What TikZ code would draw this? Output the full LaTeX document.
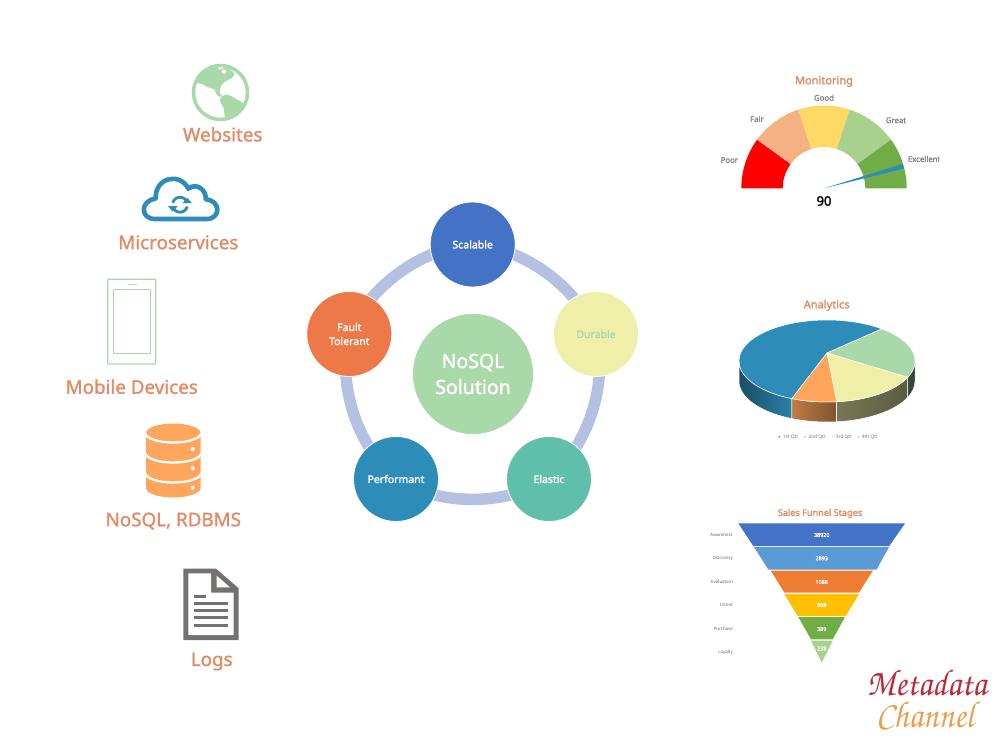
\documentclass[tikz,border=0pt]{standalone}
\usepackage{fontspec}
\setmainfont{Noto Sans}
\usetikzlibrary{backgrounds,calc}
\definecolor{lbl}{HTML}{E08B66}
\definecolor{grn}{HTML}{A9D8A9}
\definecolor{blu}{HTML}{2E8CB8}
\definecolor{ringc}{HTML}{B4C1E2}
\definecolor{dbor}{HTML}{FFA65C}
\definecolor{docg}{HTML}{767171}
\definecolor{gtxt}{HTML}{7F7F7F}
\definecolor{cscal}{HTML}{4472C4}
\definecolor{cdura}{HTML}{EFEFAA}
\definecolor{celas}{HTML}{5FBFAA}
\definecolor{cfaul}{HTML}{ED7848}
\definecolor{gfair}{HTML}{F4B183}
\definecolor{ggood}{HTML}{FFD966}
\definecolor{ggreat}{HTML}{A9D18E}
\definecolor{gexc}{HTML}{70AD47}
\definecolor{fblue}{HTML}{5B9BD5}
\definecolor{forange}{HTML}{ED7D31}
\definecolor{fgold}{HTML}{FFC000}
\definecolor{mred}{HTML}{BE283C}
\definecolor{mora}{HTML}{E8A050}
\newfontfamily\semib[FakeBold=1.2]{Noto Sans}
\newfontfamily\strongf[FakeBold=1.8]{Noto Sans}
\tikzset{
  leftlabel/.style={text=lbl,font=\semib\fontsize{18.8}{22}\selectfont,inner sep=0pt},
  charttitle/.style={text=lbl,font=\strongf\fontsize{11}{13}\selectfont,inner sep=0pt},
  disc/.style={circle,draw=white,line width=0.8pt,minimum size=85pt,inner sep=0pt,text=white,align=center,font=\strongf\fontsize{10.5}{14}\selectfont},
  ringarc/.style={draw=ringc,line width=11.5pt},
  gaugelbl/.style={text=gtxt,font=\semib\fontsize{7.8}{9}\selectfont,inner sep=0pt},
  funlbl/.style={text=black!60,font=\fontsize{4.4}{6}\selectfont,inner sep=0pt,anchor=east},
  funval/.style={text=white,font=\semib\fontsize{5.4}{6}\selectfont,inner sep=0pt},
  leglbl/.style={text=black!55,font=\fontsize{4.8}{6}\selectfont,inner sep=0pt,anchor=west},
  pieseam/.style={draw=white,line width=0.5pt},
  logotext/.style={inner sep=0pt,transform shape,font=\usefont{OT1}{pzc}{mb}{it}\fontsize{34}{36}\selectfont},
}
\newcommand{\gseg}[3]{\fill[#3] ([shift={(#1:82.7)}]824,-188.3) arc[start angle=#1,end angle=#2,radius=82.7] -- ([shift={(#2:41.3)}]824,-188.3) arc[start angle=#2,end angle=#1,radius=41.3] -- cycle;}
\newcommand{\ptop}[3]{\fill[#3,pieseam] (827,-353) -- ([shift={(#1:88 and 41)}]827,-361) arc[start angle=#1,end angle=#2,x radius=88,y radius=41] -- cycle;}
\newcommand{\pside}[4]{\path[pieseam,left color=#3,right color=#4] ([shift={(#1:88 and 41)}]827,-361) arc[start angle=#1,end angle=#2,x radius=88,y radius=41] -- ++(0,-20) arc[start angle=#2,end angle=#1,x radius=88,y radius=41] -- cycle;}
\newcommand{\fband}[7]{\fill[#1] (#2,-#6) -- (#3,-#6) -- (#5,-#7) -- (#4,-#7) -- cycle;}
\begin{document}
\begin{tikzpicture}[x=1pt,y=1pt]
\useasboundingbox (0,-750) rectangle (1000,0);
% ---------- globe
\begin{scope}[shift={(185,-58)},x=0.3333pt,y=-0.3333pt]
  \fill[grn] plot[smooth cycle,tension=0.6] coordinates {(36,72) (54,40) (92,24) (104,36) (122,28) (148,46) (140,60) (122,70) (108,84) (104,104) (112,116) (96,112) (88,94) (68,88) (52,78)};
  \fill[grn] plot[smooth cycle,tension=0.6] coordinates {(108,118) (126,110) (152,122) (176,138) (164,154) (146,172) (132,184) (120,178) (116,150) (106,132)};
\end{scope}
\fill[white] (224,-71.5) circle (2.3);
\draw[grn,line width=3.5pt] (220.5,-92.5) circle (27);
\node[leftlabel] (websites) at (222.7,-134.3) {Websites};
% ---------- cloud
\begin{scope}[shift={(135,-172)},x=0.3333pt,y=-0.3333pt]
  \draw[blu,line width=4.6pt,line join=round] (60,141) .. controls (15,141) and (15,85) .. (62,80)
    .. controls (60,15) and (135,0) .. (160,50) .. controls (185,30) and (215,55) .. (212,82)
    .. controls (258,85) and (258,141) .. (215,141) -- cycle;
\end{scope}
\draw[blu,line width=2.8pt] ([shift={(165:7.5)}]180,-204.7) arc[start angle=165,end angle=35,radius=7.5];
\draw[blu,line width=2.8pt] ([shift={(-15:7.5)}]180,-204.7) arc[start angle=-15,end angle=-145,radius=7.5];
\fill[blu] (182.5,-203.2) -- (192,-203.2) -- (187.2,-197.7) -- cycle;
\fill[blu] (168,-206.2) -- (177.5,-206.2) -- (172.8,-211.7) -- cycle;
\node[leftlabel] (micro) at (178.3,-242.3) {Microservices};
% ---------- phone
\draw[grn,line width=1.3pt,rounded corners=0.8pt] (107.7,-279.3) rectangle (155.7,-364);
\draw[grn,line width=1.1pt] (113.3,-289.3) rectangle (150.7,-353.3);
\draw[grn,line width=1pt] (127.7,-284.7) -- (137.3,-284.7);
\node[leftlabel] (mobile) at (131.7,-386.7) {Mobile Devices};
% ---------- database
\fill[dbor] (146,-433) arc[start angle=180,end angle=0,x radius=27.3,y radius=9.5] -- (200.6,-488) arc[start angle=0,end angle=-180,x radius=27.3,y radius=9.5] -- cycle;
\foreach \yy in {433,453,473}{
  \draw[white,line width=2.3pt] (145.5,-\yy) arc[start angle=180,end angle=360,x radius=27.8,y radius=9.5];
}
\foreach \yy in {449,468.3,487.7}{\fill[white] (192.7,-\yy) circle (2);}
\node[leftlabel] (nosqldb) at (173.3,-521) {NoSQL, RDBMS};
% ---------- document
\fill[docg] (183.3,-568.7) -- (216,-568.7) -- (238.7,-588.3) -- (238.7,-640) -- (183.3,-640) -- cycle;
\fill[white] (188.3,-573.3) -- (211,-573.3) -- (211,-592.7) -- (233.7,-592.7) -- (233.7,-635) -- (188.3,-635) -- cycle;
\fill[white] (216.7,-575.7) -- (216.7,-587.3) -- (230,-587.3) -- cycle;
\fill[docg] (194.3,-594.5) rectangle (205.7,-597.5);
\foreach \yy in {603.3,610.7,617.7,625}{\fill[docg] (194.3,-\yy+1.5) rectangle (227.7,-\yy-1.5);}
\node[leftlabel] (logs) at (211.7,-661.5) {Logs};
% ---------- centre cycle
\node[disc,fill=grn,minimum size=121pt,font=\strongf\fontsize{19.5}{26}\selectfont] (core) at (473,-374) {NoSQL\\Solution};
\node[disc,fill=cscal] (scal) at (472.7,-244.5) {Scalable};
\node[disc,fill=cdura,text=grn] (dura) at (596,-334) {Durable};
\node[disc,fill=celas] (elas) at (549,-479) {Elastic};
\node[disc,fill=blu] (perf) at (396,-479) {Performant};
\node[disc,fill=cfaul] (faul) at (349.3,-334) {Fault\\Tolerant};
\begin{scope}[on background layer]
  \fill[white] (0,-750) rectangle (1000,0);
  \draw[ringarc] (scal.center) to[bend left=32,looseness=0.86] (dura.center);
  \draw[ringarc] (dura.center) to[bend left=32,looseness=0.86] (elas.center);
  \draw[ringarc] (elas.center) to[bend left=32,looseness=0.86] (perf.center);
  \draw[ringarc] (perf.center) to[bend left=32,looseness=0.86] (faul.center);
  \draw[ringarc] (faul.center) to[bend left=32,looseness=0.86] (scal.center);
\end{scope}
% ---------- gauge
\node[charttitle] (mon) at (824,-81.5) {Monitoring};
\gseg{180}{144}{red}
\gseg{144}{108}{gfair}
\gseg{108}{72}{ggood}
\gseg{72}{36}{ggreat}
\gseg{36}{0}{gexc}
\fill[blu] (824,-188.3) -- (902.7,-164) -- (904,-168.5) -- cycle;
\node[gaugelbl] (gpoor) at (729.3,-160) {Poor};
\node[gaugelbl] (lfair) at (757,-119) {Fair};
\node[gaugelbl] (lgood) at (824,-97.7) {Good};
\node[gaugelbl] (lgreat) at (896,-120.3) {Great};
\begin{scope}
  \clip (900,-150) rectangle (939,-170);
  \node[gaugelbl,anchor=west] (lexc) at (907.7,-159) {Excellent};
\end{scope}
\node[inner sep=0pt,font=\strongf\fontsize{13}{15}\selectfont] (gval) at (824,-201) {90};
% ---------- pie
\node[charttitle] (ana) at (826.7,-305.5) {Analytics};
\pside{180}{246.5}{blu!55!black}{blu!92!black}
\pside{246.5}{276.3}{dbor!75!black}{dbor!50!black}
\pside{276.3}{336.5}{cdura!50!black}{cdura!38!black}
\pside{336.5}{360}{grn!35!black}{grn!30!black}
\ptop{51.5}{246.5}{blu}
\ptop{-23.5}{51.5}{grn}
\ptop{-83.7}{-23.5}{cdura}
\ptop{-113.5}{-83.7}{dbor}
\fill[blu] (779.3,-436.7) circle (1);
\node[leglbl] (q1) at (782.7,-436.7) {1st Qtr};
\fill[grn] (805,-436.7) circle (1);
\node[leglbl] (q2) at (808.3,-436.7) {2nd Qtr};
\fill[cdura] (832.7,-436.7) circle (1);
\node[leglbl] (q3) at (835.7,-436.7) {3rd Qtr};
\fill[dbor] (858.3,-436.7) circle (1);
\node[leglbl] (q4) at (861.7,-436.7) {4th Qtr};
% ---------- funnel
\node[charttitle,font=\strongf\fontsize{9.1}{11}\selectfont] (fun) at (820,-513.5) {Sales Funnel Stages};
\fband{cscal}{738.3}{905}{753.3}{889.3}{523.3}{546}
\fband{fblue}{754}{889}{768.3}{876.6}{547}{569.5}
\fband{forange}{770.7}{873}{784.3}{859}{570.5}{592.5}
\fband{fgold}{784.3}{859}{797.7}{845.7}{594}{616}
\fband{gexc}{798.3}{845}{811}{832.7}{617}{639.3}
\fband{ggreat}{811}{832.7}{821.7}{821.7}{640.7}{662.7}
\node[funval] (v1) at (821.7,-535) {38920};
\node[funval] (v2) at (821.7,-558.3) {2893};
\node[funval] (v3) at (821.7,-582) {1088};
\node[funval] (v4) at (821.7,-605) {898};
\node[funval] (v5) at (821.7,-629) {389};
\node[funval] (v6) at (821.7,-648.5) {238};
\node[funlbl] (l1) at (733,-535) {Awareness};
\node[funlbl] (l2) at (733,-558.3) {Discovery};
\node[funlbl] (l3) at (733,-582) {Evaluation};
\node[funlbl] (l4) at (733,-605) {Intent};
\node[funlbl] (l5) at (733,-629) {Purchase};
\node[funlbl] (l6) at (733,-652) {Loyalty};
% ---------- logo
\begin{scope}[yscale=1.1]
\node[logotext,text=mred] (meta) at (926.7,-682/1.1) {Metadata};
\end{scope}
\begin{scope}[yscale=1.1]
\node[logotext,text=mora] (chan) at (925,-714/1.1) {Channel};
\end{scope}
\end{tikzpicture}
\end{document}
